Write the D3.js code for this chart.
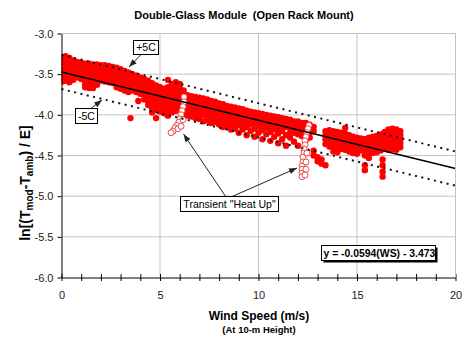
<!DOCTYPE html>
<html><head><meta charset="utf-8">
<script src="https://cdn.jsdelivr.net/npm/d3@7"></script>
<style>
body{margin:0;background:#fff}
svg{display:block;font-family:Arial,"Liberation Sans",sans-serif}
</style>
</head><body>
<svg id="c" width="474" height="340"></svg>
<script>
// ---- data ----
const chartTitle = "Double-Glass Module  (Open Rack Mount)";
const xTicks = [0,5,10,15,20];
const xMinorTicks = d3.range(0,21,1);
const yTicks = [-3.0,-3.5,-4.0,-4.5,-5.0,-5.5,-6.0];
const fitSlope = -0.0594, fitIntercept = -3.473;
const bandOffset = 0.21;            // +5C / -5C dotted lines
const equationText = "y = -0.0594(WS) - 3.473";

// filled measurements: [windSpeed, [ln values ...]]
const filledCols = [
 [0.05,[-3.30,-3.35,-3.40,-3.45,-3.50,-3.55,-3.59]],
 [0.2,[-3.28,-3.33,-3.38,-3.43,-3.48,-3.53,-3.58]],
 [0.4,[-3.30,-3.35,-3.40,-3.45,-3.50,-3.55,-3.60]],
 [0.6,[-3.33,-3.38,-3.43,-3.48,-3.53,-3.57]],
 [0.8,[-3.35,-3.40,-3.45,-3.50,-3.54]],
 [1.0,[-3.36,-3.41,-3.46,-3.51,-3.56]],
 [1.2,[-3.37,-3.42,-3.47,-3.52,-3.57,-3.62,-3.66]],
 [1.4,[-3.37,-3.42,-3.47,-3.52,-3.57,-3.62,-3.67]],
 [1.6,[-3.38,-3.43,-3.48,-3.53,-3.58,-3.63,-3.67]],
 [1.8,[-3.38,-3.43,-3.48,-3.53,-3.58,-3.63]],
 [2.0,[-3.39,-3.44,-3.49,-3.54,-3.58]],
 [2.2,[-3.39,-3.44,-3.49,-3.54,-3.59]],
 [2.4,[-3.40,-3.45,-3.50,-3.55,-3.60]],
 [2.6,[-3.41,-3.46,-3.51,-3.56,-3.61]],
 [2.8,[-3.42,-3.47,-3.52,-3.57,-3.62,-3.66]],
 [3.0,[-3.44,-3.49,-3.54,-3.59,-3.64,-3.68]],
 [3.2,[-3.46,-3.51,-3.56,-3.61,-3.66,-3.70]],
 [3.4,[-3.48,-3.53,-3.58,-3.63,-3.68,-3.72]],
 [3.5,[-4.04]],
 [3.6,[-3.50,-3.55,-3.60,-3.65,-3.70]],
 [3.8,[-3.52,-3.57,-3.62,-3.67,-3.72]],
 [3.9,[-3.83]],
 [4.0,[-3.54,-3.59,-3.64,-3.69,-3.74]],
 [4.2,[-3.56,-3.61,-3.66,-3.71,-3.76,-3.81]],
 [4.4,[-3.58,-3.63,-3.68,-3.73,-3.78,-3.83,-3.88]],
 [4.6,[-3.61,-3.66,-3.71,-3.76,-3.81,-3.86,-3.92,-3.97]],
 [4.8,[-3.64,-3.69,-3.74,-3.79,-3.84,-3.89,-3.94,-4.04]],
 [5.0,[-3.66,-3.71,-3.76,-3.81,-3.86,-3.91,-3.96]],
 [5.2,[-3.68,-3.73,-3.78,-3.83,-3.88,-3.93,-3.98]],
 [5.4,[-3.57,-3.66,-3.71,-3.76,-3.81,-3.86,-3.91,-3.96,-4.01]],
 [5.6,[-3.62,-3.67,-3.72,-3.77,-3.82,-3.87,-3.92,-3.97]],
 [5.8,[-3.60,-3.65,-3.70,-3.75,-3.80,-3.85,-3.90,-3.95]],
 [6.0,[-3.62,-3.67,-3.72,-3.77,-3.82,-3.87,-3.92]],
 [6.2,[-3.70,-3.75,-3.80,-3.85,-3.90,-3.95,-4.00]],
 [6.4,[-3.76,-3.81,-3.86,-3.91,-3.96,-4.01]],
 [6.6,[-3.77,-3.82,-3.87,-3.92,-3.97,-4.02]],
 [6.8,[-3.78,-3.83,-3.88,-3.93,-3.98,-4.04]],
 [7.0,[-3.79,-3.84,-3.89,-3.94,-3.99,-4.05]],
 [7.2,[-3.80,-3.85,-3.90,-3.95,-4.00,-4.08]],
 [7.4,[-3.81,-3.86,-3.91,-3.96,-4.02,-4.07]],
 [7.6,[-3.83,-3.88,-3.93,-3.98,-4.03,-4.10]],
 [7.8,[-3.84,-3.89,-3.94,-3.99,-4.04,-4.09]],
 [8.0,[-3.86,-3.91,-3.96,-4.01,-4.06,-4.12]],
 [8.2,[-3.87,-3.92,-3.97,-4.02,-4.08,-4.15]],
 [8.4,[-3.89,-3.94,-3.99,-4.04,-4.09,-4.14]],
 [8.6,[-3.90,-3.95,-4.00,-4.05,-4.11,-4.18]],
 [8.8,[-3.91,-3.96,-4.01,-4.06,-4.11,-4.17]],
 [9.0,[-3.92,-3.97,-4.02,-4.07,-4.13,-4.22]],
 [9.2,[-3.93,-3.98,-4.03,-4.08,-4.13,-4.18]],
 [9.4,[-3.95,-4.00,-4.05,-4.10,-4.15,-4.25]],
 [9.6,[-3.96,-4.01,-4.06,-4.12,-4.20]],
 [9.8,[-3.97,-4.02,-4.07,-4.12,-4.17,-4.27]],
 [10.0,[-3.98,-4.03,-4.08,-4.14,-4.22]],
 [10.2,[-3.99,-4.04,-4.09,-4.14,-4.19,-4.30]],
 [10.4,[-4.00,-4.05,-4.10,-4.16,-4.24]],
 [10.6,[-4.01,-4.06,-4.11,-4.16,-4.21,-4.32]],
 [10.8,[-4.02,-4.07,-4.12,-4.18,-4.27]],
 [11.0,[-4.03,-4.08,-4.13,-4.18,-4.23,-4.35]],
 [11.2,[-4.04,-4.09,-4.14,-4.20,-4.30]],
 [11.4,[-4.05,-4.10,-4.15,-4.25,-4.38]],
 [11.6,[-4.06,-4.11,-4.16,-4.22,-4.28]],
 [11.8,[-4.08,-4.13,-4.18,-4.22,-4.33]],
 [12.0,[-4.08,-4.13,-4.18,-4.24,-4.38]],
 [12.2,[-4.10,-4.15,-4.20,-4.26]],
 [12.4,[-4.10,-4.15,-4.20,-4.26,-4.31]],
 [12.6,[-4.12,-4.17,-4.22,-4.28]],
 [12.8,[-4.15,-4.20,-4.44,-4.50]],
 [13.0,[-4.52,-4.57]],
 [13.2,[-4.55,-4.60]],
 [13.4,[-4.20,-4.25,-4.30,-4.36,-4.62]],
 [13.6,[-4.19,-4.24,-4.29,-4.34,-4.39]],
 [13.8,[-4.20,-4.25,-4.30,-4.35,-4.40,-4.45]],
 [14.0,[-4.21,-4.26,-4.31,-4.36,-4.41,-4.46]],
 [14.2,[-4.22,-4.27,-4.32,-4.37,-4.42]],
 [14.4,[-4.16,-4.23,-4.28,-4.33,-4.38,-4.43]],
 [14.6,[-4.25,-4.30,-4.35,-4.40,-4.45]],
 [14.8,[-4.27,-4.32,-4.37,-4.42,-4.47]],
 [15.0,[-4.28,-4.33,-4.38,-4.43,-4.48]],
 [15.2,[-4.29,-4.34,-4.39,-4.44]],
 [15.4,[-4.30,-4.35,-4.40,-4.45,-4.50,-4.62,-4.68]],
 [15.6,[-4.28,-4.33,-4.38,-4.43,-4.48,-4.53]],
 [15.8,[-4.27,-4.32,-4.37,-4.42,-4.47]],
 [16.0,[-4.26,-4.31,-4.36,-4.41,-4.46]],
 [16.2,[-4.24,-4.29,-4.34,-4.39,-4.44]],
 [16.3,[-4.55,-4.62,-4.70,-4.76]],
 [16.4,[-4.21,-4.26,-4.31,-4.36,-4.41]],
 [16.6,[-4.18,-4.23,-4.28,-4.33,-4.38,-4.43]],
 [16.8,[-4.17,-4.22,-4.27,-4.32,-4.37,-4.42]],
 [17.0,[-4.18,-4.23,-4.28,-4.33,-4.38,-4.43]],
 [17.2,[-4.20,-4.25,-4.30,-4.35,-4.40]]
];

// transient "heat up" points (open circles)
const transientPts = [
 [6.22,-3.78],[6.22,-3.84],[6.17,-3.90],[6.12,-3.95],[6.07,-4.00],[6.02,-4.05],
 [5.96,-4.09],[5.86,-4.13],[5.76,-4.16],[5.66,-4.20],[5.56,-4.22],[5.91,-4.17],
 [6.07,-4.14],[6.17,-4.06],
 [12.56,-4.13],[12.51,-4.17],[12.46,-4.22],[12.41,-4.27],[12.36,-4.32],[12.36,-4.37],
 [12.31,-4.42],[12.31,-4.47],[12.26,-4.52],[12.26,-4.58],[12.21,-4.63],[12.21,-4.67],
 [12.21,-4.72],[12.21,-4.76],[12.41,-4.58],[12.46,-4.47],[12.41,-4.67],[12.36,-4.74]
];

// ---- drawing ----
const svg = d3.select("#c");
const L = 61.5, R = 455.5, T = 33.5, B = 277.5;
const x = d3.scaleLinear().domain([0,20]).range([L,R]);
const y = d3.scaleLinear().domain([-6,-3]).range([B,T]);

svg.append("defs").append("clipPath").attr("id","plot")
  .append("rect").attr("x",L).attr("y",T).attr("width",R-L).attr("height",B-T);
const mk = svg.select("defs").append("marker").attr("id","arr")
  .attr("viewBox","0 0 8 6").attr("refX",8).attr("refY",3)
  .attr("markerWidth",8).attr("markerHeight",6).attr("markerUnits","userSpaceOnUse")
  .attr("orient","auto");
mk.append("path").attr("d","M0,0L8,3L0,6Z").attr("fill","#222");

// grid
const grid = svg.append("g").attr("stroke","#c4c4c4").attr("stroke-width",1);
xTicks.filter(d=>d>0).forEach(d=>grid.append("line").attr("x1",x(d)).attr("x2",x(d)).attr("y1",T).attr("y2",B));
yTicks.filter(d=>d>-6).forEach(d=>grid.append("line").attr("x1",L).attr("x2",R).attr("y1",y(d)).attr("y2",y(d)));

// points
const pts = svg.append("g").attr("clip-path","url(#plot)");
const flat = filledCols.flatMap(([wx,ys])=>ys.map(v=>[wx,v]));
pts.selectAll("circle.f").data(flat).join("circle").attr("class","f")
  .attr("cx",d=>x(d[0])).attr("cy",d=>y(d[1])).attr("r",3.2).attr("fill","#ff0000");
pts.selectAll("circle.t").data(transientPts).join("circle").attr("class","t")
  .attr("cx",d=>x(d[0])).attr("cy",d=>y(d[1])).attr("r",3)
  .attr("fill","#fff").attr("stroke","#e8383d").attr("stroke-width",0.9);

// fit & band lines
const lineFn = off => [[0, fitIntercept+off],[20, fitIntercept+fitSlope*20+off]];
const ln = d3.line().x(d=>x(d[0])).y(d=>y(d[1]));
svg.append("path").attr("d",ln(lineFn(0))).attr("stroke","#000").attr("stroke-width",1.6).attr("fill","none");
[bandOffset,-bandOffset].forEach(o=>svg.append("path").attr("d",ln(lineFn(o)))
  .attr("stroke","#111").attr("stroke-width",2).attr("stroke-dasharray","2,4.5").attr("fill","none"));

// axes
const ya = svg.append("g").attr("transform",`translate(${L},0)`)
  .call(d3.axisLeft(y).tickValues(yTicks).tickFormat(d3.format(".1f")).tickSize(4).tickSizeOuter(0).tickPadding(4));
ya.selectAll("text").attr("font-size",11).attr("fill","#222").attr("font-family","Arial,'Liberation Sans',sans-serif").text(d=>d3.format(".1f")(d).replace("−","-"));
ya.select(".domain").attr("stroke","#000");
const xa = svg.append("g").attr("transform",`translate(0,${B})`)
  .call(d3.axisBottom(x).tickValues(xMinorTicks).tickFormat(d=>d%5===0?d:"").tickSizeOuter(0));
xa.selectAll(".tick line").attr("y1",-3.5).attr("y2",3.5).attr("stroke","#000");
xa.selectAll("text").attr("y",14).attr("font-size",11).attr("fill","#222").attr("font-family","Arial,'Liberation Sans',sans-serif");
xa.select(".domain").attr("stroke","#000");
// plot border top/right
svg.append("line").attr("x1",L).attr("x2",R).attr("y1",T).attr("y2",T).attr("stroke","#c4c4c4");
svg.append("line").attr("x1",R).attr("x2",R).attr("y1",T).attr("y2",B).attr("stroke","#c4c4c4");

// titles
svg.append("text").attr("x",244).attr("y",19).attr("text-anchor","middle")
  .attr("font-size",11).attr("font-weight","bold").style("white-space","pre").text(chartTitle);
svg.append("text").attr("x",259).attr("y",320).attr("text-anchor","middle")
  .attr("font-size",12).attr("font-weight","bold").text("Wind Speed (m/s)");
svg.append("text").attr("x",259).attr("y",333).attr("text-anchor","middle")
  .attr("font-size",9.5).attr("font-weight","bold").text("(At 10-m Height)");
const yl = svg.append("text").attr("transform","translate(30,183) rotate(-90)")
  .attr("text-anchor","middle").attr("font-size",14).attr("font-weight","bold");
yl.append("tspan").text("ln[(T");
yl.append("tspan").attr("font-size",10).attr("dy",3).text("mod");
yl.append("tspan").attr("dy",-3).text("-T");
yl.append("tspan").attr("font-size",10).attr("dy",3).text("amb");
yl.append("tspan").attr("dy",-3).text(") / E]");

// annotations
function box(x0,y0,w,h,label,fs,bold,shadow,anchorLeft){
  if(shadow) svg.append("rect").attr("x",x0+2).attr("y",y0+2).attr("width",w).attr("height",h).attr("fill","#000");
  svg.append("rect").attr("x",x0).attr("y",y0).attr("width",w).attr("height",h)
    .attr("fill","#fff").attr("stroke","#000").attr("stroke-width",1);
  svg.append("text").attr("x",anchorLeft?x0+2:x0+w/2).attr("y",y0+h/2+fs*0.36)
    .attr("text-anchor",anchorLeft?"start":"middle").attr("font-size",fs)
    .attr("font-weight",bold?"bold":"normal").style("white-space","pre").text(label);
}
function arrow(x1,y1,x2,y2){
  svg.append("line").attr("x1",x1).attr("y1",y1).attr("x2",x2).attr("y2",y2)
    .attr("stroke","#222").attr("stroke-width",1).attr("marker-end","url(#arr)");
}
arrow(141,54.5,129,67);
box(133.5,40.5,25,14,"+5C",10.5,false,false,false);
arrow(91,108.5,102,100);
box(75.5,108.5,22,15,"-5C",10.5,false,false,false);
arrow(226,197,183.5,134);
arrow(231,197,297,168);
box(180.5,196.5,98,15,'Transient "Heat Up"',10.5,false,false,false);
box(321.5,245.5,114,15,equationText,10.4,true,true,true);
</script>
</body></html>
